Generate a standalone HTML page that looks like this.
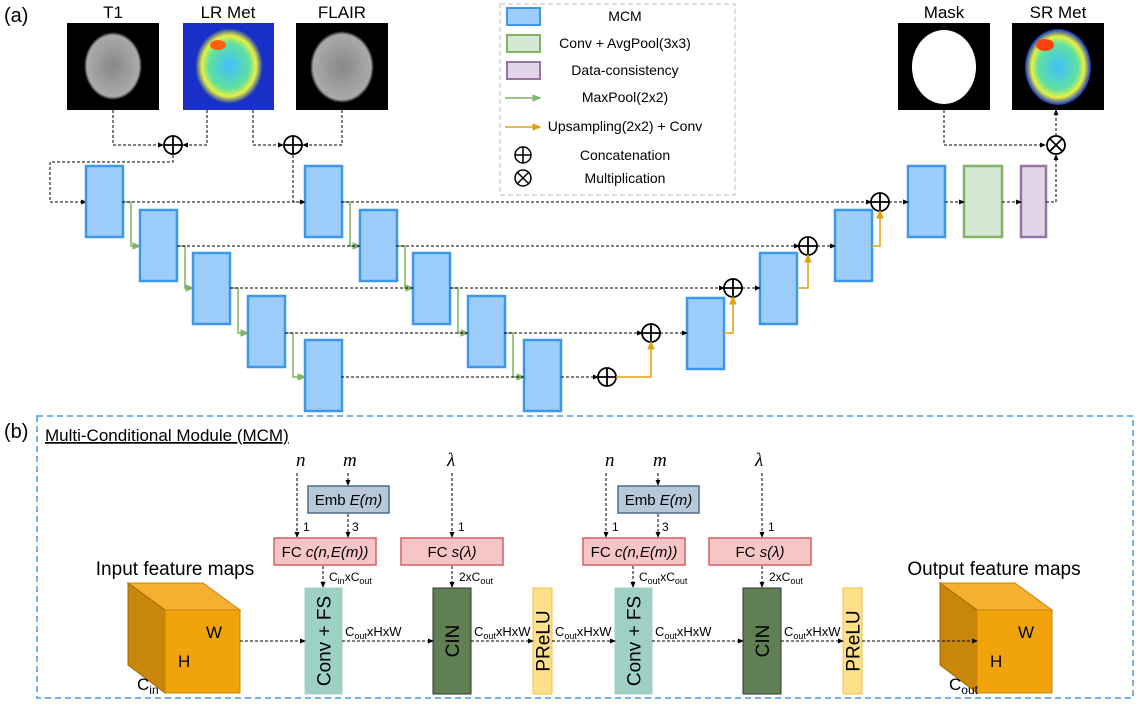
<!DOCTYPE html>
<html><head><meta charset="utf-8"><style>
body{margin:0;background:#fff;}
svg{display:block;font-family:"Liberation Sans",sans-serif;}
</style></head><body>
<svg width="1138" height="704" viewBox="0 0 1138 704">
<defs>
<marker id="ah" markerWidth="6" markerHeight="6" refX="5" refY="3" orient="auto"><path d="M0,0.5 L6,3 L0,5.5z" fill="#000"/></marker>
<marker id="ag" markerWidth="6" markerHeight="6" refX="5" refY="3" orient="auto"><path d="M0,0.5 L6,3 L0,5.5z" fill="#82b366"/></marker>
<marker id="ao" markerWidth="6" markerHeight="6" refX="5" refY="3" orient="auto"><path d="M0,0.5 L6,3 L0,5.5z" fill="#e0a010"/></marker>
<radialGradient id="met" cx="0.5" cy="0.5" r="0.5"><stop offset="0" stop-color="#40c0ff"/><stop offset="0.6" stop-color="#60e0a0"/><stop offset="0.8" stop-color="#e8f040"/><stop offset="1" stop-color="#1030c0"/></radialGradient>
<radialGradient id="brain" cx="0.5" cy="0.5" r="0.5"><stop offset="0" stop-color="#888"/><stop offset="0.9" stop-color="#aaa"/><stop offset="1" stop-color="#000"/></radialGradient>
</defs>
<text x="4" y="22" font-size="20">(a)</text>
<g>
<text x="113" y="18" font-size="17" text-anchor="middle">T1</text>
<rect x="67" y="23" width="92" height="87" fill="#000"/>
<ellipse cx="113" cy="66" rx="29" ry="34" fill="url(#brain)"/>
<text x="228" y="18" font-size="17" text-anchor="middle">LR Met</text>
<rect x="183" y="23" width="91" height="87" fill="#1a2fc8"/>
<ellipse cx="229" cy="66" rx="34" ry="38" fill="url(#met)"/>
<ellipse cx="218" cy="45" rx="8" ry="5" fill="#ff6010"/>
<text x="342" y="18" font-size="17" text-anchor="middle">FLAIR</text>
<rect x="296" y="23" width="92" height="87" fill="#000"/>
<ellipse cx="342" cy="67" rx="32" ry="36" fill="url(#brain)"/>
<text x="944" y="18" font-size="17" text-anchor="middle">Mask</text>
<rect x="898" y="23" width="92" height="87" fill="#000"/>
<ellipse cx="944" cy="67" rx="32" ry="37" fill="#fff"/>
<text x="1058" y="18" font-size="17" text-anchor="middle">SR Met</text>
<rect x="1012" y="23" width="92" height="87" fill="#000"/>
<ellipse cx="1058" cy="67" rx="33" ry="38" fill="url(#met)"/>
<ellipse cx="1045" cy="45" rx="9" ry="6" fill="#ff4010"/>
</g>
<g font-size="14">
<rect x="500" y="4" width="235" height="191" fill="none" stroke="#bbb" stroke-dasharray="5,3"/>
<rect x="507" y="8" width="33" height="17" fill="#9ccdfb" stroke="#3d97ea" stroke-width="2"/><text x="625" y="21" text-anchor="middle">MCM</text>
<rect x="507" y="35" width="33" height="17" fill="#d5e8d4" stroke="#82b366" stroke-width="2"/><text x="625" y="48" text-anchor="middle">Conv + AvgPool(3x3)</text>
<rect x="507" y="62" width="33" height="17" fill="#e1d5e7" stroke="#9673a6" stroke-width="2"/><text x="625" y="75" text-anchor="middle">Data-consistency</text>
<line x1="505" y1="98" x2="540" y2="98" stroke="#82b366" stroke-width="1.5" marker-end="url(#ag)"/><text x="625" y="102" text-anchor="middle">MaxPool(2x2)</text>
<line x1="505" y1="127" x2="540" y2="127" stroke="#e0a010" stroke-width="1.5" marker-end="url(#ao)"/><text x="625" y="131" text-anchor="middle">Upsampling(2x2) + Conv</text>
<circle cx="523" cy="155" r="8" fill="none" stroke="#000" stroke-width="1.5"/><path d="M515,155h16M523,147v16" stroke="#000" stroke-width="1.5"/><text x="625" y="160" text-anchor="middle">Concatenation</text>
<circle cx="523" cy="178" r="8" fill="none" stroke="#000" stroke-width="1.5"/><path d="M517,172l12,12M529,172l-12,12" stroke="#000" stroke-width="1.5"/><text x="625" y="183" text-anchor="middle">Multiplication</text>
</g>
<g id="unet"></g>
<text x="4" y="438" font-size="20">(b)</text>
<rect x="37" y="416" width="1096" height="282" fill="none" stroke="#4a9ce8" stroke-width="1.5" stroke-dasharray="6,4"/>
<text x="45" y="441" font-size="17" text-decoration="underline">Multi-Conditional Module (MCM)</text>
<g id="mcm"></g>
</svg>
<script>
const NS='http://www.w3.org/2000/svg';
function mk(p,t,a,txt){const e=document.createElementNS(NS,t);for(const k in a)e.setAttribute(k,a[k]);if(txt!==undefined)e.textContent=txt;p.appendChild(e);return e;}
const U=document.getElementById('unet');
const dash={stroke:'#000','stroke-width':1,'stroke-dasharray':'3,2',fill:'none'};
function dl(d,arrow){const o=Object.assign({d:d},dash);if(arrow)o['marker-end']='url(#ah)';return mk(U,'path',o);}
function cat(x,y){const g=mk(U,'g',{});mk(g,'circle',{cx:x,cy:y,r:9,fill:'#fff',stroke:'#000','stroke-width':1.8});mk(g,'path',{d:`M${x-9},${y}h18M${x},${y-9}v18`,stroke:'#000','stroke-width':1.8});}
function blk(x,y,w,h,f,s){const r=mk(U,'rect',{x:x,y:y,width:w,height:h,fill:f,stroke:s,'stroke-width':2.5});return r;}
const B='#9ccdfb',BS='#3d97ea';
dl('M113,110V145H163',1);dl('M207,110V145H183',1);
dl('M253,110V145H283',1);dl('M342,110V145H303',1);
dl('M173,155V162H50V202H86',1);dl('M293,155V202H305',1);
cat(173,145);cat(293,145);
const levels=[166,210,253,296,340];
const enc1=[86,140,193,248,305], enc2=[305,360,413,468,524];
const skipY=[202,246,288,333,377];
[enc1,enc2].forEach((E,k)=>{E.forEach((x,i)=>{const r=blk(x,levels[i],37,71,B,BS);
 if(i<4){mk(U,'path',{d:`M${x+37},${skipY[i]}H${x+45}V${skipY[i+1]}H${E[i+1]}`,stroke:'#82b366','stroke-width':1.5,fill:'none','marker-end':'url(#ag)'});}});});
dl('M122,202H305');dl('M341,202H871',1);
dl('M177,246H360');dl('M396,246H799',1);
dl('M230,288H413');dl('M450,288H724',1);
dl('M285,333H468');dl('M504,333H642',1);
dl('M341,377H524');dl('M561,377H598',1);
cat(607,377);cat(651,333);cat(733,288);cat(808,246);cat(880,202);
const dec=[[687,298],[760,253],[835,210],[908,166]];
dec.forEach(([x,y])=>{const r=blk(x,y,37,71,B,BS);});
const up=[[616,377,651,342],[724,333,733,297],[797,288,808,255],[872,246,880,211]];
up.forEach(([x1,y1,x2,y2])=>mk(U,'path',{d:`M${x1},${y1}H${x2}V${y2}`,stroke:'#e0a010','stroke-width':1.5,fill:'none','marker-end':'url(#ao)'}));
dl('M660,333H687',1);dl('M742,288H760',1);dl('M817,246H835',1);dl('M889,202H908',1);
const g1=blk(964,166,38,71,'#d5e8d4','#82b366');
const p1=blk(1021,166,25,71,'#e1d5e7','#9673a6');
dl('M945,202H964',1);dl('M1002,202H1021',1);dl('M1046,202H1056V155',1);
dl('M944,110V145H1045',1);dl('M1056,136V110',1);
{const x=1056,y=145;mk(U,'circle',{cx:x,cy:y,r:9,fill:'#fff',stroke:'#000','stroke-width':1.8});mk(U,'path',{d:`M${x-6},${y-6}l12,12M${x+6},${y-6}l-12,12`,stroke:'#000','stroke-width':1.8});}

const M=document.getElementById('mcm');
function t(x,y,s,o){const e=mk(M,'text',Object.assign({x:x,y:y,'font-size':13},o||{}));e.innerHTML=s;return e;}
function md(d){return mk(M,'path',{d:d,stroke:'#000','stroke-width':1,'stroke-dasharray':'3,2',fill:'none','marker-end':'url(#ah)'});}
function cube(x,lab){const g=mk(M,'g',{});
 mk(g,'polygon',{points:`${x},583 ${x+75},583 ${x+112},610 ${x+37},610`,fill:'#f5b030',stroke:'#c8860a'});
 mk(g,'polygon',{points:`${x},583 ${x+37},610 ${x+37},693 ${x},665`,fill:'#c8860a',stroke:'#a06a05'});
 mk(g,'rect',{x:x+37,y:610,width:75,height:83,fill:'#f0a30a',stroke:'#c8860a'});
 mk(g,'text',{x:x+78,y:638,'font-size':17},'W');mk(g,'text',{x:x+50,y:667,'font-size':17},'H');
 const c=mk(g,'text',{x:x+9,y:690,'font-size':17});c.innerHTML='C<tspan font-size="12" dy="4">'+lab+'</tspan>';}
cube(128,'in');cube(940,'out');
t(175,575,'Input feature maps',{'font-size':19,'text-anchor':'middle'});
t(994,575,'Output feature maps',{'font-size':19,'text-anchor':'middle'});
function vbox(x,w,fill,stroke,label,name){const g=mk(M,'g',{});
 mk(g,'rect',{x:x,y:588,width:w,height:106,fill:fill,stroke:stroke,'stroke-width':1});
 mk(g,'text',{x:0,y:0,'font-size':19,'text-anchor':'middle',transform:`translate(${x+w/2+7},641) rotate(-90)`},label);}
function box(x,y,w,fill,stroke,html,name){const g=mk(M,'g',{});
 mk(g,'rect',{x:x,y:y,width:w,height:27,fill:fill,stroke:stroke,'stroke-width':1.5});const e=mk(g,'text',{x:x+w/2,y:y+19,'font-size':15,'text-anchor':'middle'});e.innerHTML=html;}
const sub=s=>`C<tspan font-size="9" dy="3">${s}</tspan>`;
[[305,274,308,'in'],[615,583,618,'out']].forEach(([cx,fx,ex,ci])=>{
 t(fx+22,466,'n',{'font-size':19,'font-style':'italic','font-family':'Liberation Serif'});
 t(ex+35,466,'m',{'font-size':19,'font-style':'italic','font-family':'Liberation Serif'});
 md(`M${fx+23},473V537`);md(`M${ex+40},473V485`);md(`M${ex+40},514V537`);
 box(ex,486,81,'#b7c8d8','#4a6a8a','Emb <tspan font-style="italic">E(m)</tspan>','embedding-box');
 t(fx+29,531,'1',{'font-size':12});t(ex+44,531,'3',{'font-size':12});
 box(fx,538,102,'#f6c5c5','#d36060','FC <tspan font-style="italic">c(n,E(m))</tspan>','fc-c-box');
 md(`M${cx+18},566V587`);
 const e=t(cx+24,581,'',{'font-size':12});e.innerHTML=sub(ci)+'<tspan dy="-3">x</tspan>'+sub('out');
 vbox(cx,37,'#9fd0c6','#9fd0c6','Conv + FS','conv-fs-block');});
[[433,401],[743,709]].forEach(([cx,fx])=>{
 t(fx+46,466,'λ',{'font-size':19,'font-style':'italic','font-family':'Liberation Serif'});
 md(`M${cx+19},473V537`);t(cx+25,531,'1',{'font-size':12});
 box(fx,538,102,'#f6c5c5','#d36060','FC <tspan font-style="italic">s(λ)</tspan>','fc-s-box');
 md(`M${cx+19},566V587`);const e=t(cx+26,581,'',{'font-size':12});e.innerHTML='2x'+sub('out');
 vbox(cx,38,'#607f53','#333','CIN','cin-block');});
[533,843].forEach(x=>vbox(x,19,'#ffe08a','#f0c040','PReLU','prelu-block'));
[[240,305],[342,433],[471,533],[552,615],[652,743],[781,843],[862,977]].forEach(([a,b],i)=>{
 md(`M${a},641H${b}`);
 if(i>0&&i<6){const e=t(a+3,636,'',{'font-size':13});e.innerHTML=sub('out')+'<tspan dy="-3">xHxW</tspan>';}});
</script>
</body></html>
